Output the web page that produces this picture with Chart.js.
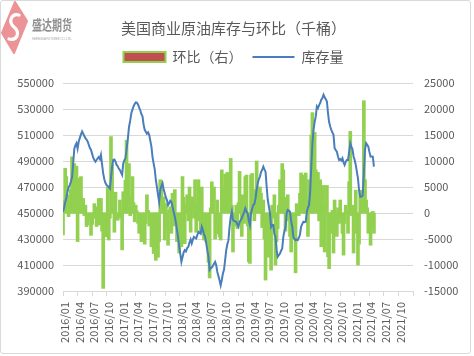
<!DOCTYPE html>
<html>
<head>
<meta charset="utf-8">
<script src="https://cdn.jsdelivr.net/npm/chart.js@4.4.1/dist/chart.umd.min.js"></script>
<style>
html,body{margin:0;padding:0;background:#fff;}
#wrap{position:relative;width:474px;height:356px;overflow:hidden;background:#fff;}
#c{position:absolute;left:0;top:0;}
#frame{position:absolute;left:0;top:0;width:469px;height:352px;border:1.5px solid #d9d9d9;border-radius:3px;pointer-events:none;}
#logo{position:absolute;left:0;top:0;}
</style>
</head>
<body>
<div id="wrap">
<canvas id="c" width="474" height="356"></canvas>
<svg id="logo" width="80" height="56" viewBox="0 0 80 56">
  <polygon points="15,2 27,21 14,53 2,33" fill="#e9888c" stroke="#e9888c" stroke-width="2" stroke-linejoin="round" opacity="0.9"/>
  <path d="M19,15 C11,13 8,22 14,27 C20,32 18,41 9,39" stroke="#ffffff" stroke-width="3.2" fill="none" stroke-linecap="round"/>
  <text x="32" y="30" font-family="Noto Sans CJK SC" font-size="14" font-weight="bold" fill="#8f8f8f" textLength="40" lengthAdjust="spacingAndGlyphs">盛达期货</text>
  <text x="32" y="40" font-family="Liberation Sans" font-size="3.6" fill="#a0a0a0" textLength="40" lengthAdjust="spacingAndGlyphs">SHENGDA FUTURES CO.,LTD.</text>
</svg>
<div id="frame"></div>
</div>
<script>
// ---- data ----
const chartTitle = '美国商业原油库存与环比（千桶）';
const seriesNames = ['环比（右）', '库存量'];
const firstWeek = [2016, 1, 1]; // weekly observations starting this date
const tickLabels = ['2016/01','2016/04','2016/07','2016/10','2017/01','2017/04','2017/07','2017/10',
  '2018/01','2018/04','2018/07','2018/10','2019/01','2019/04','2019/07','2019/10',
  '2020/01','2020/04','2020/07','2020/10','2021/01','2021/04','2021/07','2021/10'];

// 库存量 (left axis, thousand barrels)
const inventory = [
451000,454000,458000,461300,466000,469500,471500,474000,477500,488000,
499500,502000,503700,499500,505000,507800,510500,512700,511000,509200,
507500,506500,505000,502500,500000,498500,495500,492500,490800,489500,
490800,492000,493000,491500,494700,487500,480500,476000,473000,471500,
470800,470000,468900,477000,485500,490800,491200,489500,487000,486000,
484000,483100,481000,479300,488000,490500,492100,499000,506300,516000,
521000,526900,529500,532000,533800,535000,534800,533500,531000,529000,
526000,524300,518000,514000,512500,511000,512000,510100,505500,501100,
493000,488000,483600,475400,470000,464000,458700,467700,470500,472900,
468500,465100,462000,460000,456100,457500,459500,458700,454800,451000,
447100,442500,436900,431000,424000,418500,412400,416000,419500,421400,
420500,423000,424000,427500,429700,426600,429500,431700,431000,430400,
433000,435500,434800,434000,439400,437000,433500,431700,426600,421000,
416300,406300,407500,408000,409500,411000,412400,410000,404700,401500,
398300,394400,398500,403500,406500,414000,421400,426000,429100,439400,
447000,451000,444600,444000,443500,443300,441000,439400,443000,444500,
445900,448400,450500,453600,451000,449700,444000,440700,449700,453000,
456100,457000,461000,467700,472900,476000,478000,481500,483100,485700,
483500,481800,470200,460000,455000,449700,439400,441000,440700,434000,
431700,421400,416300,417500,418800,421000,422700,431700,436000,439400,
449700,452300,451800,451000,443500,439400,431700,430000,429100,429500,
429100,431000,433000,439400,441500,443300,443000,443300,451000,454000,
456100,466000,485000,503000,514000,520000,524300,532000,530700,533000,
534600,537100,538500,541000,539000,537500,535800,526900,520000,516500,
514000,512000,510100,499900,498500,497200,493500,490800,491500,490500,
492100,489000,487000,489500,490800,490800,497000,503700,501100,499000,
493500,490800,487000,481800,476700,467700,462500,462500,463500,480600,
498500,503700,502500,501100,497000,493400,493500,493400,485700
];

// 环比（右） (right axis, weekly change, thousand barrels)
const weeklyChange = [
-4200,2500,8600,7000,3500,-700,2000,4500,10800,6000,
9500,2500,9000,-5500,3000,6700,7000,2100,2800,-500,
1500,-2600,-2300,-1200,-900,-4300,-2200,-1000,1800,1200,
-2600,-1500,2800,-2300,2800,-3500,-14500,-1000,-2500,-4600,
5000,-5200,-1000,14700,9300,1000,-3700,4000,-1200,-1400,
-800,2500,-1000,-7100,4100,2500,6300,14000,8000,9500,
-500,3000,7000,2000,-1700,1500,400,-2000,-3900,-1000,
-5500,-4500,-3300,-6000,-2000,3500,500,-2500,-1500,-6500,
-3000,-7800,-2000,-9100,-4000,-8500,-5500,6400,6000,2000,
3100,-5200,1800,-3000,-6200,600,1200,-3900,3800,-2500,
4500,-1500,-5500,-3000,-7700,-4500,-6500,7000,3000,-5900,
1500,3500,-1500,5000,-3700,1000,3100,-1000,6400,-3700,
2000,6400,-1500,-3900,5000,-2500,-5200,-1500,-5500,-3000,
-9500,-12500,1000,6000,1500,5000,-5000,-2500,2500,-4000,
-4600,-5200,8300,5000,3000,7500,2000,7800,3000,6000,
10500,1500,-7500,-1000,-2500,1500,-3000,2000,8000,2000,
-4500,3500,-2000,7000,7300,-2500,-9400,-9700,7300,7600,
1500,-1500,4500,10000,5000,3000,5000,3800,-2800,2500,
-5000,-12900,-3500,-3000,-8500,-2000,-11000,1500,-1000,3500,
-10000,-5500,-3000,1500,6400,2000,9500,8300,3000,-3500,
2000,3500,-1500,-4500,-7500,-3000,-5000,-2500,-11500,1800,
1500,-500,3800,7700,2000,7300,1000,7700,2500,-4500,
6400,4000,15000,19300,12000,15500,8300,5000,7800,-1500,
6400,-6500,2000,5300,-7500,1500,5300,-8400,-10700,-2000,
-3900,500,-7700,2500,-1500,-4500,1000,-2000,2500,-1000,
-3900,-8100,-2000,1500,400,-3900,6000,15700,-500,1500,
-7700,-1000,4400,-3900,-10000,-6000,4400,1000,2000,21600,
6400,2500,1000,-3900,-1500,-6200,-2500,300,-3900
];

// ---- helpers ----
function weekPos(i) {
  const d = new Date(Date.UTC(firstWeek[0], firstWeek[1] - 1, firstWeek[2] + 7 * i));
  const y = d.getUTCFullYear(), m = d.getUTCMonth(), day = d.getUTCDate();
  const dim = new Date(Date.UTC(y, m + 1, 0)).getUTCDate();
  return (y - 2016) * 12 + m + (day - 1) / dim;
}

const FONT = "'Noto Sans CJK SC', 'Liberation Sans', sans-serif";
Chart.defaults.font.family = FONT;
Chart.defaults.color = '#595959';

const defaultLabels = Chart.defaults.plugins.legend.labels.generateLabels;

new Chart(document.getElementById('c'), {
  type: 'bar',
  data: {
    datasets: [
      {
        type: 'bar',
        label: seriesNames[0],
        data: weeklyChange.map((v, i) => ({x: weekPos(i), y: v})),
        xAxisID: 'x',
        yAxisID: 'y1',
        backgroundColor: '#92D050',
        borderWidth: 0,
        barThickness: 3,
        order: 2
      },
      {
        type: 'line',
        label: seriesNames[1],
        data: inventory.map((v, i) => ({x: weekPos(i), y: v})),
        xAxisID: 'x',
        yAxisID: 'y',
        borderColor: '#4A7EBB',
        backgroundColor: '#4A7EBB',
        borderWidth: 2,
        pointRadius: 0,
        tension: 0,
        fill: false,
        order: 1
      }
    ]
  },
  options: {
    responsive: false,
    animation: false,
    devicePixelRatio: 1,
    layout: { padding: { left: 0, right: 7, top: 0, bottom: 0 } },
    plugins: {
      tooltip: { enabled: false },
      title: {
        display: true,
        text: chartTitle,
        color: '#595959',
        font: { size: 15, weight: 'normal', family: FONT },
        padding: { top: 19, bottom: 3 }
      },
      legend: {
        display: true,
        position: 'top',
        labels: {
          usePointStyle: true,
          pointStyleWidth: 42,
          boxHeight: 10,
          padding: 10,
          color: '#595959',
          font: { size: 14, family: FONT },
          generateLabels(chart) {
            const items = defaultLabels(chart);
            items.forEach(it => {
              if (it.datasetIndex === 0) {
                it.fillStyle = '#C0504D';
                it.strokeStyle = '#92D050';
                it.lineWidth = 2;
                it.pointStyle = 'rect';
              } else {
                it.fillStyle = 'rgba(0,0,0,0)';
                it.strokeStyle = '#4A7EBB';
                it.lineWidth = 2;
                it.pointStyle = 'line';
              }
              it.rotation = 0;
            });
            return items.sort((a, b) => a.datasetIndex - b.datasetIndex);
          }
        }
      }
    },
    scales: {
      x: {
        type: 'linear',
        position: 'bottom',
        min: 0,
        max: 72,
        offset: false,
        grid: { offset: false, drawOnChartArea: false, drawTicks: true, tickLength: 5, color: '#d9d9d9' },
        border: { display: true, color: '#d9d9d9' },
        ticks: {
          stepSize: 3,
          autoSkip: false,
          maxTicksLimit: 100,
          maxRotation: 90,
          minRotation: 90,
          padding: 6,
          labelOffset: 2,
          color: '#595959',
          font: { size: 11, family: FONT },
          callback: (v) => {
            const k = Math.round(v / 3);
            return tickLabels[k] !== undefined ? tickLabels[k] : '';
          }
        },
        afterFit: (s) => { s.height = 65; }
      },
      xTop: {
        type: 'linear',
        position: 'top',
        display: true,
        min: 0,
        max: 72,
        offset: false,
        grid: { display: false, drawTicks: false },
        border: { display: false },
        ticks: { display: false },
        afterFit: (s) => { s.height = 9; }
      },
      y: {
        type: 'linear',
        position: 'left',
        min: 390000,
        max: 550000,
        grid: { color: '#d9d9d9', lineWidth: 1, drawTicks: false },
        border: { display: false },
        ticks: {
          stepSize: 20000,
          padding: 9,
          color: '#595959',
          font: { size: 11, family: FONT },
          callback: (v) => String(v)
        },
        afterFit: (s) => { s.width = 63; }
      },
      y1: {
        type: 'linear',
        position: 'right',
        min: -15000,
        max: 25000,
        beginAtZero: false,
        grid: { display: false, drawTicks: false },
        border: { display: false },
        ticks: {
          stepSize: 5000,
          padding: 11,
          color: '#595959',
          font: { size: 11, family: FONT },
          callback: (v) => String(v)
        },
        afterFit: (s) => { s.width = 54; }
      }
    }
  }
});
</script>
</body>
</html>
